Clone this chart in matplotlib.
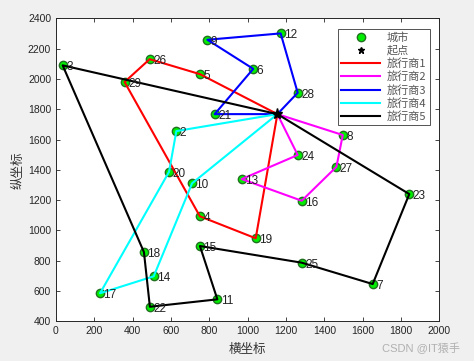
import matplotlib
matplotlib.use("Agg")
import matplotlib.pyplot as plt
from matplotlib.lines import Line2D

plt.rcParams['font.family'] = ['Liberation Sans', 'Noto Sans CJK SC', 'DejaVu Sans']

# city id -> coordinates (city 1 is the start point)
city_ids = [1, 2, 3, 4, 5, 6, 7, 8, 9, 10, 11, 12, 13, 14, 15, 16, 17, 18, 19, 20,
            21, 22, 23, 24, 25, 26, 27, 28, 29]
city_x = [1155, 628, 35, 751, 751, 1029, 1652, 1496, 790, 710, 842, 1172, 969, 510, 751,
          1282, 230, 459, 1042, 590, 828, 490, 1843, 1261, 1282, 489, 1463, 1261, 358]
city_y = [1768, 1656, 2090, 1093, 2032, 2067, 646, 1630, 2259, 1311, 545, 2301, 1339, 697, 897,
          1196, 585, 857, 948, 1387, 1768, 496, 1240, 1498, 787, 2131, 1420, 1909, 1980]

start_id = 1

route1 = [1, 5, 26, 29, 4, 19, 1]
route2 = [1, 8, 27, 16, 13, 24, 1]
route3 = [1, 28, 12, 9, 6, 21, 1]
route4 = [1, 2, 20, 17, 14, 10, 1]
route5 = [1, 3, 18, 22, 11, 15, 25, 7, 23, 1]
routes = [route1, route2, route3, route4, route5]
route_colors = ['#ff0000', '#ff00ff', '#0000ff', '#00ffff', '#000000']
route_names = ['旅行商1', '旅行商2', '旅行商3', '旅行商4', '旅行商5']

xticks = [0, 200, 400, 600, 800, 1000, 1200, 1400, 1600, 1800, 2000]
yticks = [400, 600, 800, 1000, 1200, 1400, 1600, 1800, 2000, 2200, 2400]

pos = {cid: (x, y) for cid, x, y in zip(city_ids, city_x, city_y)}

fig = plt.figure(figsize=(4.74, 3.61), dpi=100, facecolor='#f0f0f0')
ax = fig.add_axes([0.118, 0.110, 0.809, 0.839])
ax.set_facecolor('white')

# cities (excluding start)
cx = [pos[c][0] for c in city_ids if c != start_id]
cy = [pos[c][1] for c in city_ids if c != start_id]
ax.plot(cx, cy, 'o', color='#00dd00', markerfacecolor='#00ee00', markeredgecolor='#207020',
        markersize=6, linestyle='none', zorder=2)
for c in city_ids:
    if c == start_id:
        continue
    x, y = pos[c]
    ax.text(x + 18, y - 12, str(c), fontsize=8.5, color='#222222', va='center', ha='left', zorder=4)

for r, col in zip(routes, route_colors):
    ax.plot([pos[c][0] for c in r], [pos[c][1] for c in r], color=col, lw=1.5, zorder=3)

ax.plot([pos[start_id][0]], [pos[start_id][1]], marker='*', color='black', markersize=8,
        linestyle='none', zorder=5)

ax.set_xlim(0, 2000)
ax.set_ylim(400, 2400)
ax.set_xticks(xticks)
ax.set_yticks(yticks)
ax.tick_params(direction='in', top=True, right=True, labelsize=7.5, length=3,
               colors='#262626', width=0.6)
for s in ax.spines.values():
    s.set_color('#262626')
    s.set_linewidth(0.7)
ax.set_xlabel('横坐标', fontsize=9, family=['Noto Sans CJK SC'], labelpad=5, color='#333333')
ax.set_ylabel('纵坐标', fontsize=9, family=['Noto Sans CJK SC'], labelpad=2, color='#333333')

handles = [Line2D([], [], marker='o', linestyle='none', markerfacecolor='#00ee00',
                  markeredgecolor='#207020', markersize=6),
           Line2D([], [], marker='*', linestyle='none', color='black', markersize=5)]
for col in route_colors:
    handles.append(Line2D([], [], color=col, lw=1.5))
labels = ['城市', '起点'] + route_names
leg = ax.legend(handles, labels, loc='upper right', bbox_to_anchor=(0.975, 0.965),
                borderaxespad=0, frameon=True, fancybox=False, handlelength=3.5,
                labelspacing=0.22, borderpad=0.3, handletextpad=0.6,
                prop={'family': ['Noto Sans CJK SC'], 'size': 8})
leg.get_frame().set_edgecolor('#262626')
leg.get_frame().set_linewidth(0.7)
for t in leg.get_texts():
    t.set_color('#555555')

fig.text(0.97, 0.035, 'CSDN @IT猿手', fontsize=8, color='#b0b0b0', ha='right', va='center',
         family=['Liberation Sans', 'Noto Sans CJK SC'])

fig.savefig('out.png', dpi=100, facecolor=fig.get_facecolor())
